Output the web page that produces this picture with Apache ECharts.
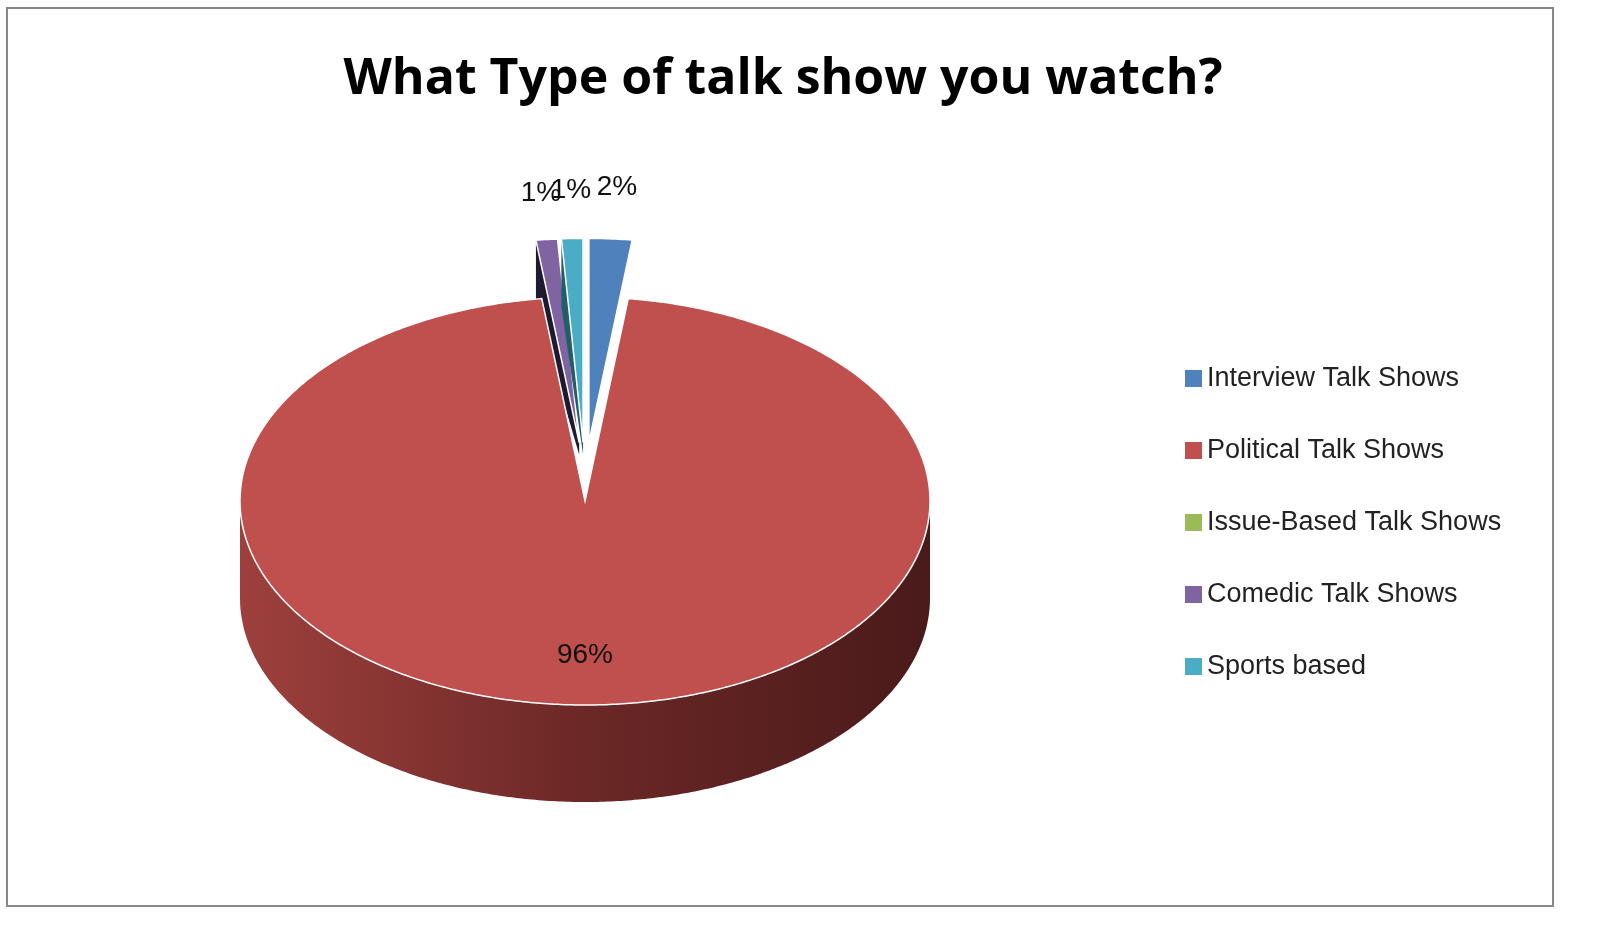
<!DOCTYPE html>
<html><head><meta charset="utf-8">
<script src="https://cdn.jsdelivr.net/npm/echarts@6/dist/echarts.min.js"></script>
<style>html,body{margin:0;background:#fff;overflow:hidden}#c{width:1600px;height:948px}</style>
</head><body><div id="c"></div>
<script>
// data
var categories = ['Interview Talk Shows','Political Talk Shows','Issue-Based Talk Shows','Comedic Talk Shows','Sports based'];
var values = [2, 96, 0, 1, 1];
var colors = ['#4f81bd','#c0504d','#9bbb59','#8064a2','#4bacc6'];
var sideColors = [['#3a6591','#2a4a6c'],['#9e403d','#4a1a1a'],['#7a9444','#5a6e31'],['#5e4a79','#1e1a30'],['#35899c','#245d6a']];
var exploded = [true, false, true, true, true];
var drawOrder = [0, 2, 3, 4, 1];

var total = values.reduce(function(a,b){return a+b;},0);
var starts = [], acc = 0;
values.forEach(function(v){ starts.push(acc); acc += v; });

var cx = 585, cy = 501, rx = 345, ry = 204, depth = 97, explode = 62;

function renderSlice(params, api){
  var i = drawOrder[params.dataIndex];
  var v = values[i];
  if (v === 0) return null;
  var a1 = -Math.PI/2 + starts[i]/total*2*Math.PI;
  var a2 = -Math.PI/2 + (starts[i]+v)/total*2*Math.PI;
  var mid = (a1+a2)/2;
  var ox = cx, oy = cy;
  if (exploded[i]) { ox += explode*Math.cos(mid); oy += explode*Math.sin(mid)*ry/rx*1.6; }
  function P(a){ return [ox + rx*Math.cos(a), oy + ry*Math.sin(a)]; }
  var n = Math.max(4, Math.ceil((a2-a1)/0.01));
  var top = [[ox, oy]];
  for (var k=0;k<=n;k++) top.push(P(a1+(a2-a1)*k/n));
  var children = [];
  if (exploded[i]) {
    // left radial wall only, short
    var p = P(a1);
    children.push({type:'polygon', shape:{points:[[ox,oy],p,[p[0],p[1]+depth*0.7],[ox,oy+12]]},
      style:{fill:sideColors[i][1]}});
  }
  var s1 = Math.max(a1, 0), s2 = Math.min(a2, Math.PI);
  if (s2 > s1) {
    var m = Math.ceil((s2-s1)/0.01), side = [];
    for (var k=0;k<=m;k++) side.push(P(s1+(s2-s1)*k/m));
    for (var k=m;k>=0;k--){ var q = P(s1+(s2-s1)*k/m); side.push([q[0], q[1]+depth]); }
    children.push({type:'polygon', shape:{points:side},
      style:{fill:new echarts.graphic.LinearGradient(0,0,1,0,[{offset:0,color:sideColors[i][0]},{offset:0.5,color:'#6b2826'},{offset:1,color:sideColors[i][1]}])}});
  }
  children.push({type:'polygon', shape:{points:top}, style:{fill:colors[i], stroke:'#fff', lineWidth:1.5}});
  return {type:'group', children:children};
}

var labelPos = [[617,187],[585,655],null,[541,193],[571,190]];
var graphics = [{type:'rect', shape:{x:7,y:8,width:1546,height:898}, style:{fill:'none', stroke:'#888', lineWidth:2}, z:-10}];
values.forEach(function(v,i){
  if (!labelPos[i]) return;
  graphics.push({type:'text', x:labelPos[i][0], y:labelPos[i][1], z:10,
    style:{text:Math.round(v/total*100)+'%', align:'center', verticalAlign:'middle',
      font:'28px "Liberation Sans Narrow", "Liberation Sans"', fill:'#111'}});
});

var chart = echarts.init(document.getElementById('c'));
chart.setOption({
  backgroundColor:'#fff',
  title:{text:'What Type of talk show you watch?', left:778, top:50, textAlign:'center',
    textStyle:{fontFamily:'Open Sans', fontSize:50, fontWeight:'bold', color:'#000'}},
  legend:{orient:'vertical', left:1180, top:360, itemGap:45, itemWidth:17, itemHeight:17, icon:'rect',
    data:categories, selectedMode:false,
    textStyle:{fontFamily:'Liberation Sans Narrow, Liberation Sans', fontSize:27, color:'#222'}},
  graphic:graphics,
  series:[
    {type:'pie', radius:[0,1], center:[2000,2000], silent:true, label:{show:false}, labelLine:{show:false},
      data:categories.map(function(c,i){return {name:c, value:values[i], itemStyle:{color:colors[i]}};})},
    {type:'custom', coordinateSystem:'none', silent:true, renderItem:renderSlice, data:drawOrder}
  ]
});
</script></body></html>
